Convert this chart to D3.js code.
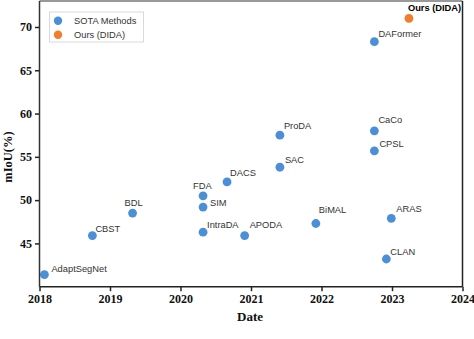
<!DOCTYPE html>
<html>
<head>
<meta charset="utf-8">
<script src="https://cdn.jsdelivr.net/npm/d3@7"></script>
<style>
  body { margin: 0; background: #fff; }
  svg { display: block; }
</style>
</head>
<body>
<div id="chart"></div>
<script>
// method names, publication date (fractional year) and mIoU
const methods = ["AdaptSegNet", "CBST", "BDL", "FDA", "SIM", "IntraDA", "DACS", "APODA",
                 "SAC", "ProDA", "BiMAL", "CaCo", "CPSL", "DAFormer", "ARAS", "CLAN"];
const dates   = [2018.07, 2018.75, 2019.32, 2020.32, 2020.32, 2020.32, 2020.66, 2020.91,
                 2021.41, 2021.41, 2021.92, 2022.75, 2022.75, 2022.75, 2022.99, 2022.92];
const mious   = [41.4, 45.9, 48.5, 50.5, 49.2, 46.3, 52.1, 45.9,
                 53.8, 57.5, 47.3, 58.0, 55.7, 68.3, 47.9, 43.2];

const oursName = "Ours (DIDA)";
const oursDate = 2023.24;
const oursMiou = 71.0;

const xTicks = [2018, 2019, 2020, 2021, 2022, 2023, 2024];
const yTicks = [45, 50, 55, 60, 65, 70];
const legendLabels = ["SOTA Methods", "Ours (DIDA)"];

// label placement relative to the dot (px), roughly as in the figure
const labelShift = {
    AdaptSegNet: [7, -3], CBST: [3, -4], BDL: [-8, -7], FDA: [-10, -7], SIM: [7, -1],
    IntraDA: [4, -4], DACS: [3, -6], APODA: [5, -8], SAC: [5, -4], ProDA: [4, -6],
    BiMAL: [3, -10], CaCo: [4, -8], CPSL: [5, -4], DAFormer: [4, -5], ARAS: [5, -6], CLAN: [4, -4]
};

const blue = "#4a8fd7", orange = "#f07e2c";

const W = 474, H = 339;
const margin = {top: 1, right: 12, bottom: 52, left: 39.5};

const svg = d3.select("#chart").append("svg")
    .attr("width", W)
    .attr("height", H);

const x = d3.scaleLinear()
    .domain([2018, 2024])
    .range([margin.left, 462.5]);

const y = d3.scaleLinear()
    .domain([40, 73])
    .range([286.7, margin.top]);

const serif = "'Liberation Serif', 'Times New Roman', serif";
const sans = "'Liberation Sans', Arial, sans-serif";

// axes
const xAxis = svg.append("g")
    .attr("transform", `translate(0,${y(40)})`)
    .call(d3.axisBottom(x).tickValues(xTicks).tickFormat(d3.format("d")).tickSize(4.5).tickPadding(3));

const yAxis = svg.append("g")
    .attr("transform", `translate(${x(2018)},0)`)
    .call(d3.axisLeft(y).tickValues(yTicks).tickSize(4.5).tickPadding(3));

[xAxis, yAxis].forEach(a => {
    a.select(".domain").remove();
    a.selectAll(".tick line").attr("stroke", "#222").attr("stroke-width", 1.5);
    a.selectAll(".tick text")
        .attr("fill", "#111")
        .style("font-family", serif)
        .style("font-weight", "bold")
        .style("font-size", "12px");
});

// axis titles
svg.append("text")
    .attr("x", 250)
    .attr("y", 321)
    .attr("text-anchor", "middle")
    .style("font-family", serif)
    .style("font-weight", "bold")
    .style("font-size", "13px")
    .attr("fill", "#111")
    .text("Date");

svg.append("text")
    .attr("transform", "translate(12,157) rotate(-90)")
    .attr("text-anchor", "middle")
    .style("font-family", serif)
    .style("font-weight", "bold")
    .style("font-size", "12.5px")
    .attr("fill", "#111")
    .text("mIoU(%)");

// SOTA points
const pts = methods.map((m, i) => ({name: m, date: dates[i], miou: mious[i]}));

svg.selectAll("circle.sota")
    .data(pts)
    .join("circle")
    .attr("class", "sota")
    .attr("cx", d => x(d.date))
    .attr("cy", d => y(d.miou))
    .attr("r", 4.4)
    .attr("fill", blue);

svg.selectAll("text.lbl")
    .data(pts)
    .join("text")
    .attr("class", "lbl")
    .attr("x", d => x(d.date) + labelShift[d.name][0])
    .attr("y", d => y(d.miou) + labelShift[d.name][1])
    .style("font-family", sans)
    .style("font-size", "9.3px")
    .attr("fill", "#333")
    .text(d => d.name);

// ours
svg.append("circle")
    .attr("cx", x(oursDate))
    .attr("cy", y(oursMiou))
    .attr("r", 4.4)
    .attr("fill", orange);

svg.append("text")
    .attr("x", x(oursDate) - 1)
    .attr("y", y(oursMiou) - 7)
    .style("font-family", sans)
    .style("font-weight", "bold")
    .style("font-size", "9.3px")
    .attr("fill", "#000")
    .text(oursName);

// frame
svg.append("line")
    .attr("x1", x(2018)).attr("x2", x(2024))
    .attr("y1", y(73)).attr("y2", y(73))
    .attr("stroke", "#999").attr("stroke-width", 2);
svg.append("line")
    .attr("x1", x(2018)).attr("x2", x(2018))
    .attr("y1", y(73)).attr("y2", y(40))
    .attr("stroke", "#333").attr("stroke-width", 1.5);
svg.append("line")
    .attr("x1", x(2024)).attr("x2", x(2024))
    .attr("y1", y(73)).attr("y2", y(40))
    .attr("stroke", "#222").attr("stroke-width", 1.5);
svg.append("line")
    .attr("x1", x(2018)).attr("x2", x(2024))
    .attr("y1", y(40)).attr("y2", y(40))
    .attr("stroke", "#222").attr("stroke-width", 1.5);

// legend
const leg = svg.append("g").attr("transform", "translate(49.5,12)");
leg.append("rect")
    .attr("width", 94)
    .attr("height", 30)
    .attr("fill", "#fff")
    .attr("stroke", "#d0d0d0")
    .attr("stroke-width", 0.8);
legendLabels.forEach((t, i) => {
    leg.append("circle")
        .attr("cx", 8.5)
        .attr("cy", 8.7 + i * 14)
        .attr("r", 4.2)
        .attr("fill", i === 0 ? blue : orange);
    leg.append("text")
        .attr("x", 24.5)
        .attr("y", 12 + i * 14)
        .style("font-family", sans)
        .style("font-size", "9.3px")
        .attr("fill", "#333")
        .text(t);
});

// caption, mostly cut off by the bottom edge (as in the source figure)
const cap = svg.append("text")
    .attr("x", 0)
    .attr("y", 350)
    .style("font-family", serif)
    .style("font-size", "14px")
    .attr("fill", "#222");
cap.append("tspan").style("font-weight", "bold").text("Fig. 5. ");
cap.append("tspan").text("Progress of UDA for semantic segmentation over the recent years.");
</script>
</body>
</html>
